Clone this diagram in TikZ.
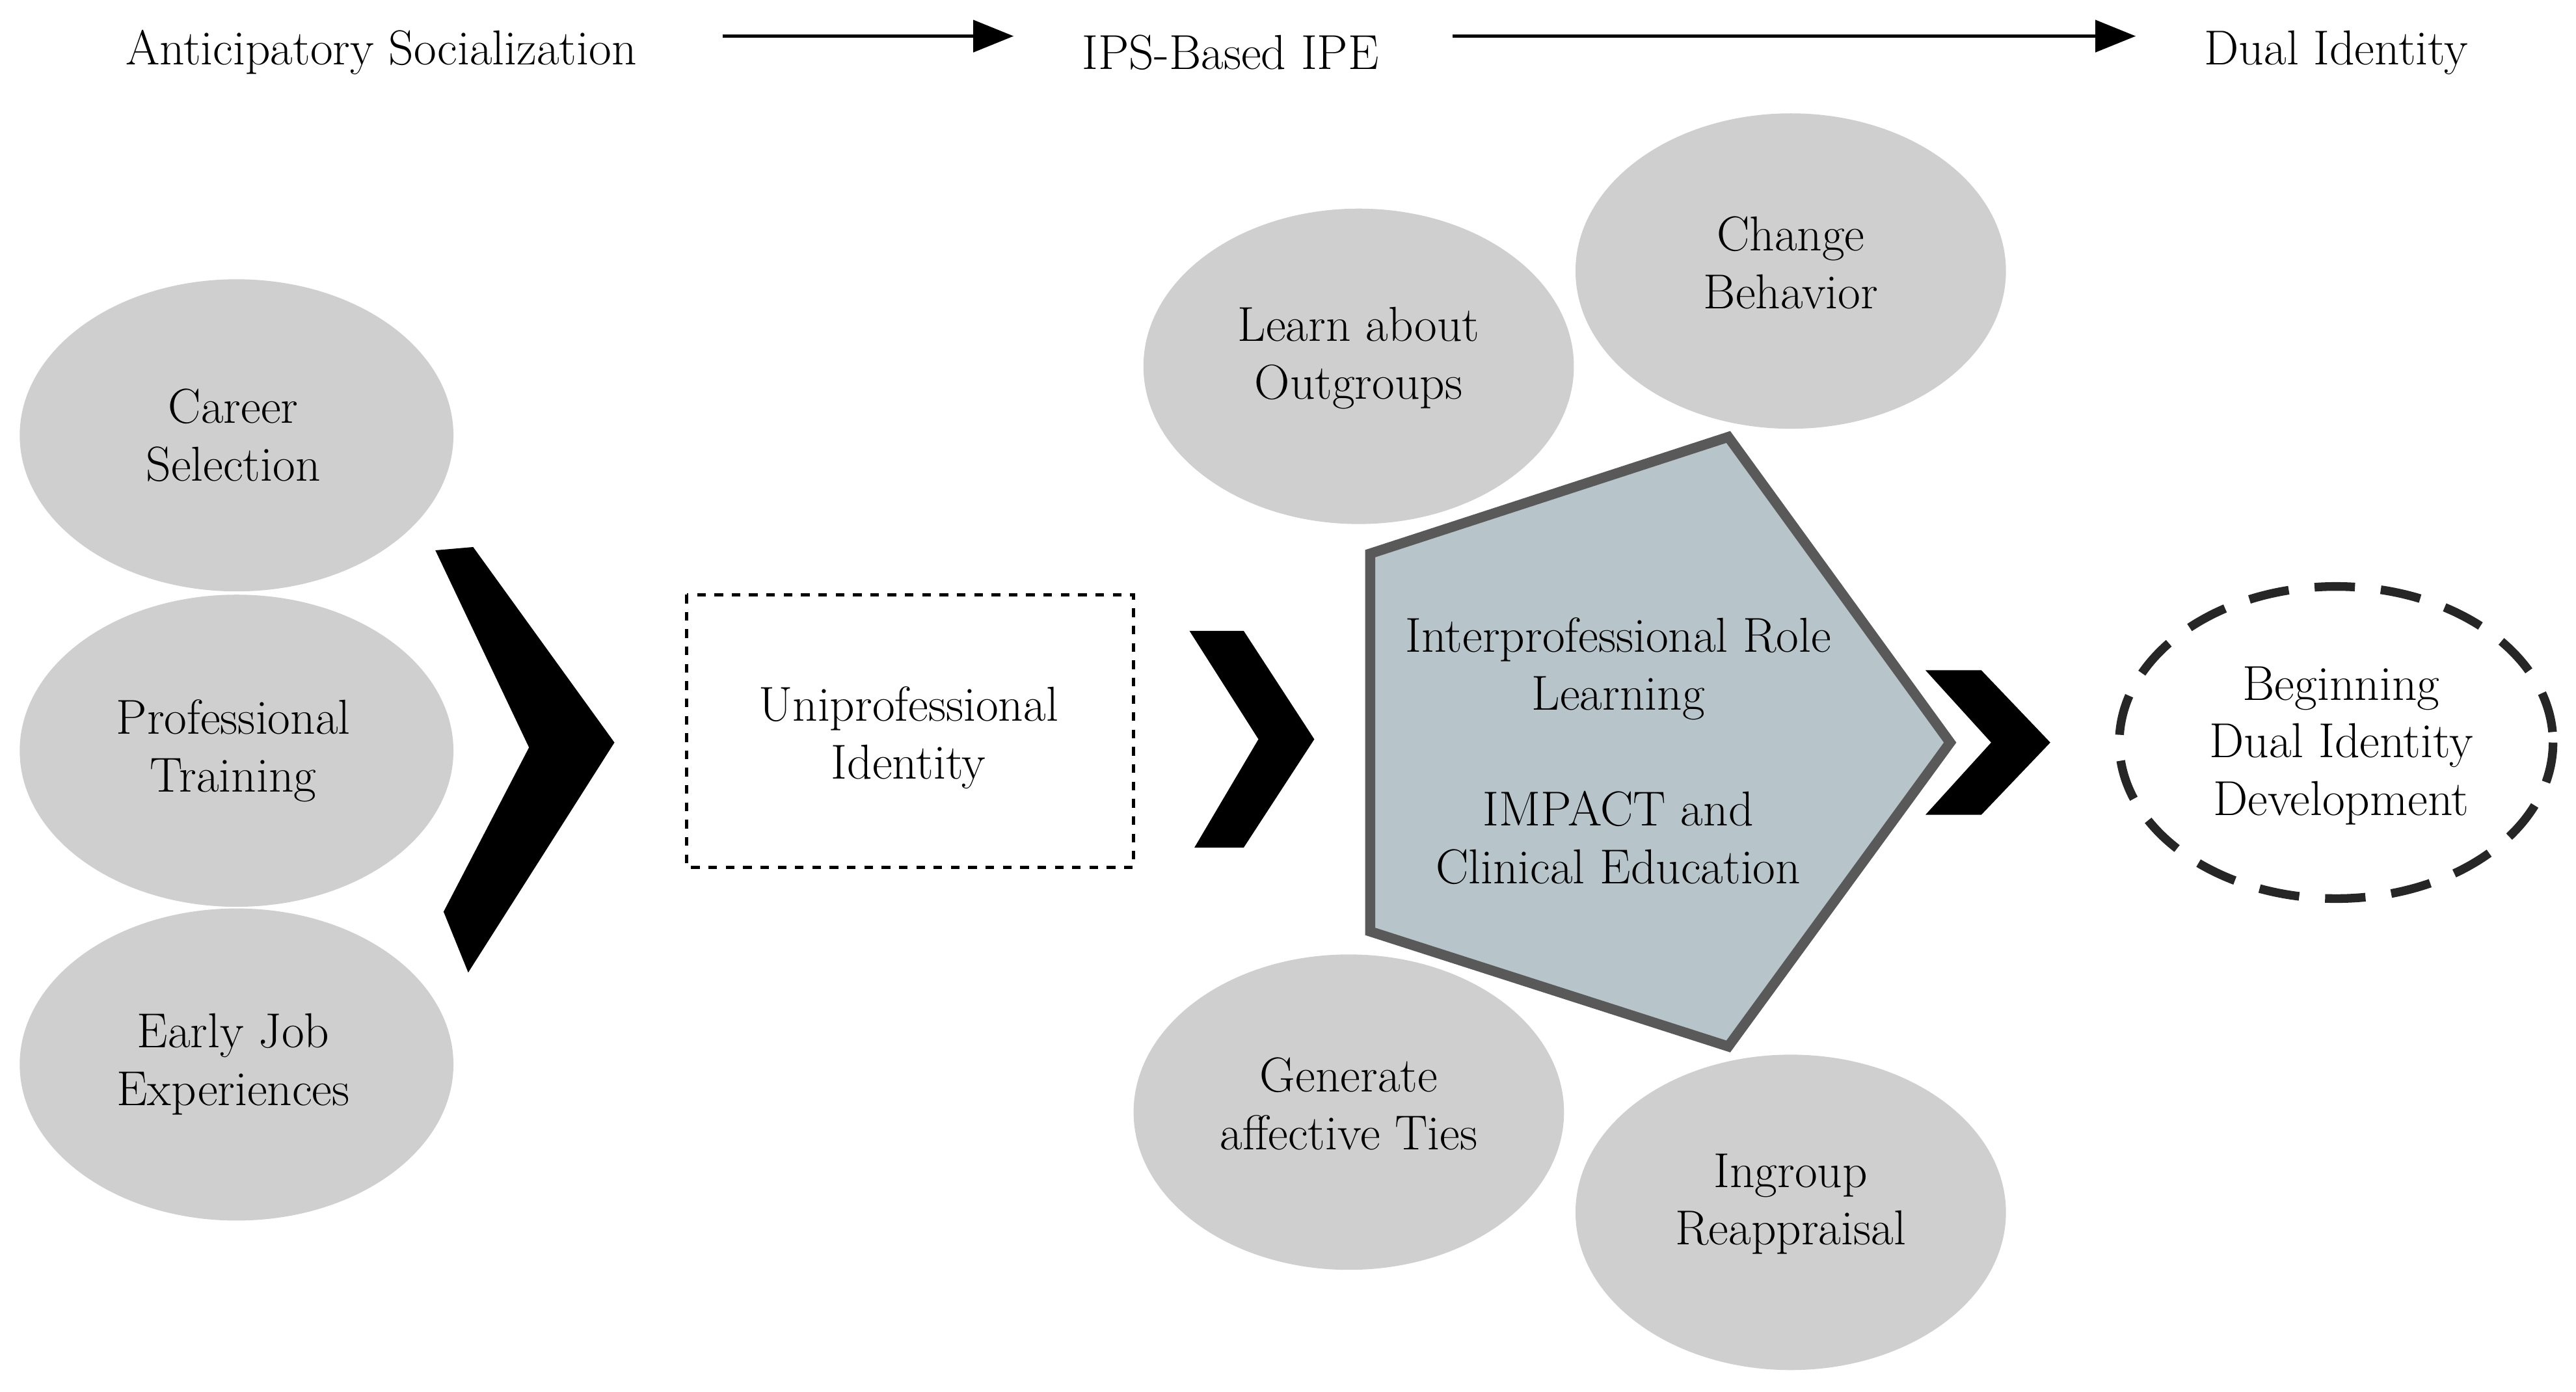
\documentclass[tikz,border=0pt]{standalone}
\usetikzlibrary{arrows.meta}
\begin{document}
\begin{tikzpicture}[x=0.02cm,y=-0.02cm,
  txt/.style={font=\fontsize{17}{20}\selectfont,align=center},
  chev/.style={fill=black},
  hdr/.style={-{Triangle[length=14pt,width=11pt]},line width=1.2pt}]
\useasboundingbox (0,0) rectangle (1568,847);
% header
\node[txt] (h1) at (232,32) {Anticipatory Socialization};
\node[txt] (h2) at (749,32) {IPS-Based IPE};
\node[txt] (h3) at (1422,32) {Dual Identity};
\coordinate (a1s) at (440,22); \coordinate (a1e) at (617,22);
\coordinate (a2s) at (884,22); \coordinate (a2e) at (1300,22);
\draw[hdr] (a1s) -- (a1e);
\draw[hdr] (a2s) -- (a2e);
% left ellipses
\foreach \y/\t/\n in {265/{Career\\Selection}/e1,457/{Professional\\Training}/e2,648/{Early Job\\Experiences}/e3}{
  \fill[black!19] (144,\y) ellipse [x radius=132,y radius=95];
  \node[txt] (\n) at (142,\y) {\t};}
% big chevron
\fill[chev] (265,335) -- (288,333) -- (374,452) -- (285,592) -- (270,555) -- (322,455) -- cycle;
% dashed box
\draw[dashed,line width=1.2pt] (418,362) rectangle (690,528);
\node[txt] (ut) at (553,449) {Uniprofessional\\Identity};
% small chevron
\fill[chev] (724,384) -- (757,384) -- (800,450) -- (757,516) -- (727,516) -- (766,450) -- cycle;
% ellipses around pentagon
\foreach \x/\y/\t/\n in {827/223/{Learn about\\Outgroups}/b1,1090/165/{Change\\Behavior}/b2,821/677/{Generate\\affective Ties}/b3,1090/738/{Ingroup\\Reappraisal}/b4}{
  \fill[black!19] (\x,\y) ellipse [x radius=131,y radius=96];
  \node[txt] (\n) at (\x,\y-5) {\t};}
% pentagon
\filldraw[fill={rgb,255:red,183;green,196;blue,202},draw=black!65,line width=3.5pt,line join=miter]
  (834,337) -- (1052,266) -- (1187,452) -- (1052,637) -- (834,567) -- cycle;
\node[txt] (p1) at (985,407) {Interprofessional Role\\Learning};
\node[txt] (p2) at (985,510) {IMPACT and\\Clinical Education};
% chevron 3
\fill[chev] (1172,408) -- (1206,408) -- (1248,452) -- (1206,496) -- (1172,496) -- (1212,452) -- cycle;
% dashed ellipse
\draw[dash pattern=on 14pt off 9pt,line width=3pt,black!85] (1422,452) ellipse [x radius=132,y radius=95];
\node[txt] (d) at (1425,454) {Beginning\\Dual Identity\\Development};
\end{tikzpicture}
\end{document}
